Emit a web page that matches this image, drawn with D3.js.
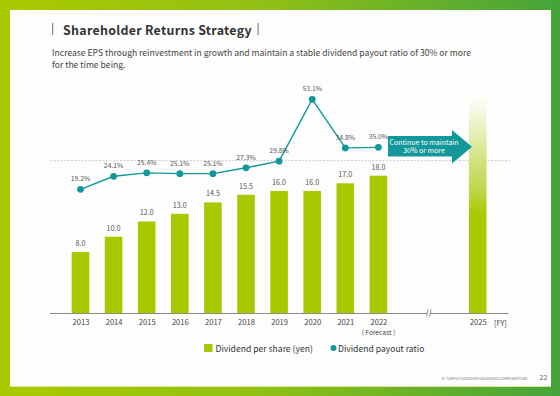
<!DOCTYPE html>
<html>
<head>
<meta charset="utf-8">
<script src="https://cdn.jsdelivr.net/npm/d3@7"></script>
<style>
  body { margin: 0; background: #fff; }
  svg { display: block; font-family: "Noto Sans CJK JP", "Noto Sans", sans-serif; }
</style>
</head>
<body>
<svg id="chart" width="560" height="396"></svg>
<script>
// data
const years = ["2013","2014","2015","2016","2017","2018","2019","2020","2021","2022","2023","2024","2025"];
const dpsYears = ["2013","2014","2015","2016","2017","2018","2019","2020","2021","2022"];
const dividendPerShare = [8.0, 10.0, 12.0, 13.0, 14.5, 15.5, 16.0, 16.0, 17.0, 18.0];
const payoutRatio = [19.2, 24.1, 25.4, 25.1, 25.1, 27.3, 29.8, 53.1, 34.8, 35.0];
const target2025 = 28.5;   // tall fading bar, no label
const payoutTarget = 30;
const tickYears = ["2013","2014","2015","2016","2017","2018","2019","2020","2021","2022","2025"];

const svg = d3.select("#chart");

// frame gradient
const defs = svg.append("defs");
const frameGrad = defs.append("linearGradient").attr("id", "frame").attr("x1", "0%").attr("x2", "100%");
frameGrad.append("stop").attr("offset", "0%").attr("stop-color", "#abc900");
frameGrad.append("stop").attr("offset", "45%").attr("stop-color", "#93c114");
frameGrad.append("stop").attr("offset", "100%").attr("stop-color", "#45a43b");

const barGrad = defs.append("linearGradient").attr("id", "fade").attr("x1", "0").attr("x2", "0").attr("y1", "0").attr("y2", "1");
barGrad.append("stop").attr("offset", "0%").attr("stop-color", "#ffffff");
barGrad.append("stop").attr("offset", "45%").attr("stop-color", "#bcd440");
barGrad.append("stop").attr("offset", "55%").attr("stop-color", "#aac800");
barGrad.append("stop").attr("offset", "100%").attr("stop-color", "#aac800");

svg.append("rect").attr("width", 560).attr("height", 396).attr("fill", "url(#frame)");
svg.append("rect").attr("x", 10).attr("y", 10).attr("width", 541).attr("height", 376).attr("fill", "#fdfdfd");
svg.append("line").attr("x1", 10).attr("x2", 551).attr("y1", 386.5).attr("y2", 386.5).attr("stroke", "#d9ec9a").attr("stroke-width", 1);

// title
svg.append("rect").attr("x", 52).attr("y", 23).attr("width", 1.2).attr("height", 12).attr("fill", "#888");
svg.append("rect").attr("x", 257.5).attr("y", 23).attr("width", 1.2).attr("height", 12).attr("fill", "#888");
svg.append("text").attr("x", 63).attr("y", 34.5)
  .attr("font-size", 12.4).attr("font-weight", "bold").attr("fill", "#333")
  .attr("letter-spacing", 0.3)
  .text("Shareholder Returns Strategy");

const sub = svg.append("text").attr("font-size", 8.6).attr("fill", "#444");
sub.append("tspan").attr("x", 52).attr("y", 55.5)
  .text("Increase EPS through reinvestment in growth and maintain a stable dividend payout ratio of 30% or more");
sub.append("tspan").attr("x", 52).attr("y", 67.5).text("for the time being.");

// scales
const x = d3.scalePoint().domain(years).range([80.5, 477.7]);
const barW = 17.6;
const baseY = 313;
const yBar = d3.scaleLinear().domain([0, 18]).range([baseY, 175.7]);
const yLine = d3.scaleLinear().domain([19.2, 53.1]).range([189.3, 99.3]);

// 30% reference line
svg.append("line")
  .attr("x1", 50).attr("x2", 510)
  .attr("y1", yLine(payoutTarget)).attr("y2", yLine(payoutTarget))
  .attr("stroke", "#bdbdbd").attr("stroke-width", 0.8).attr("stroke-dasharray", "2,1.5");

// bars
svg.selectAll("rect.bar")
  .data(dpsYears)
  .enter().append("rect")
  .attr("class", "bar")
  .attr("x", d => x(d) - barW / 2)
  .attr("y", (d, i) => yBar(dividendPerShare[i]))
  .attr("width", barW)
  .attr("height", (d, i) => baseY - yBar(dividendPerShare[i]))
  .attr("fill", "#aac800");

svg.append("rect")
  .attr("x", x("2025") - barW / 2)
  .attr("y", yBar(target2025))
  .attr("width", barW)
  .attr("height", baseY - yBar(target2025))
  .attr("fill", "url(#fade)");

svg.selectAll("text.barlabel")
  .data(dpsYears)
  .enter().append("text")
  .attr("class", "barlabel")
  .attr("x", d => x(d))
  .attr("y", (d, i) => yBar(dividendPerShare[i]) - 6)
  .attr("text-anchor", "middle")
  .attr("font-size", 7.2).attr("fill", "#555")
  .text((d, i) => dividendPerShare[i].toFixed(1));

// arrow
const ax0 = 388, ax1 = 452, axTip = 472;
const ay0 = 136, ay1 = 156.5, ahTop = 130, ahBot = 163.5;
svg.append("path")
  .attr("d", `M${ax0},${ay0}H${ax1}V${ahTop}L${axTip},${(ahTop + ahBot) / 2}L${ax1},${ahBot}V${ay1}H${ax0}Z`)
  .attr("fill", "#12979b");
const at = svg.append("text").attr("text-anchor", "middle").attr("font-size", 7).attr("fill", "#fff");
at.append("tspan").attr("x", 424).attr("y", 144.5).text("Continue to maintain");
at.append("tspan").attr("x", 424).attr("y", 153).text("30% or more");

// payout ratio line
const line = d3.line()
  .x((d, i) => x(dpsYears[i]))
  .y(d => yLine(d));
svg.append("path")
  .datum(payoutRatio)
  .attr("d", line)
  .attr("fill", "none")
  .attr("stroke", "#12979b")
  .attr("stroke-width", 1.4);

svg.selectAll("circle.pt")
  .data(payoutRatio)
  .enter().append("circle")
  .attr("class", "pt")
  .attr("cx", (d, i) => x(dpsYears[i]))
  .attr("cy", d => yLine(d))
  .attr("r", 3.4)
  .attr("fill", "#12979b");

svg.selectAll("text.ptlabel")
  .data(payoutRatio)
  .enter().append("text")
  .attr("class", "ptlabel")
  .attr("x", (d, i) => x(dpsYears[i]))
  .attr("y", d => yLine(d) - 8)
  .attr("text-anchor", "middle")
  .attr("font-size", 6.8).attr("fill", "#555")
  .text(d => d.toFixed(1) + "%");

// x axis
const xAxis = d3.axisBottom(x).tickValues(tickYears).tickSize(0).tickPadding(7);
const gx = svg.append("g").attr("transform", `translate(0,${baseY})`).call(xAxis);
gx.select(".domain").remove();
gx.selectAll("text").attr("font-size", 7.6).attr("fill", "#444").attr("font-family", "Noto Sans CJK JP, sans-serif");

svg.append("line").attr("x1", 50).attr("x2", 508.5).attr("y1", baseY + 0.5).attr("y2", baseY + 0.5)
  .attr("stroke", "#8a8a8a").attr("stroke-width", 1);
// break mark
svg.append("rect").attr("x", 427).attr("y", baseY - 3).attr("width", 3).attr("height", 7).attr("fill", "#fdfdfd");
svg.append("path").attr("d", `M426.5,${baseY + 3.5}L428,${baseY - 3.5}M429.5,${baseY + 3.5}L431,${baseY - 3.5}`)
  .attr("stroke", "#777").attr("stroke-width", 0.8).attr("fill", "none");

svg.append("text").attr("x", x("2022")).attr("y", 334.5).attr("text-anchor", "middle")
  .attr("font-size", 6.6).attr("fill", "#444").text("( Forecast )");
svg.append("text").attr("x", 494).attr("y", 326).attr("font-size", 7.2).attr("fill", "#444").text("[FY]");

// legend
svg.append("rect").attr("x", 204).attr("y", 344).attr("width", 8.5).attr("height", 8).attr("fill", "#aac800");
svg.append("text").attr("x", 215.5).attr("y", 351.5).attr("font-size", 8.6).attr("fill", "#333").text("Dividend per share (yen)");
svg.append("circle").attr("cx", 333.5).attr("cy", 348).attr("r", 3).attr("fill", "#12979b");
svg.append("text").attr("x", 338).attr("y", 351.5).attr("font-size", 8.6).attr("fill", "#333").text("Dividend payout ratio");

// footer
svg.append("text").attr("x", 441.5).attr("y", 379.5).attr("font-size", 4).attr("fill", "#777")
  .text("© TOKYU FUDOSAN HOLDINGS CORPORATION");
svg.append("text").attr("x", 539.5).attr("y", 380).attr("font-size", 7).attr("fill", "#666").text("22");
</script>
</body>
</html>
